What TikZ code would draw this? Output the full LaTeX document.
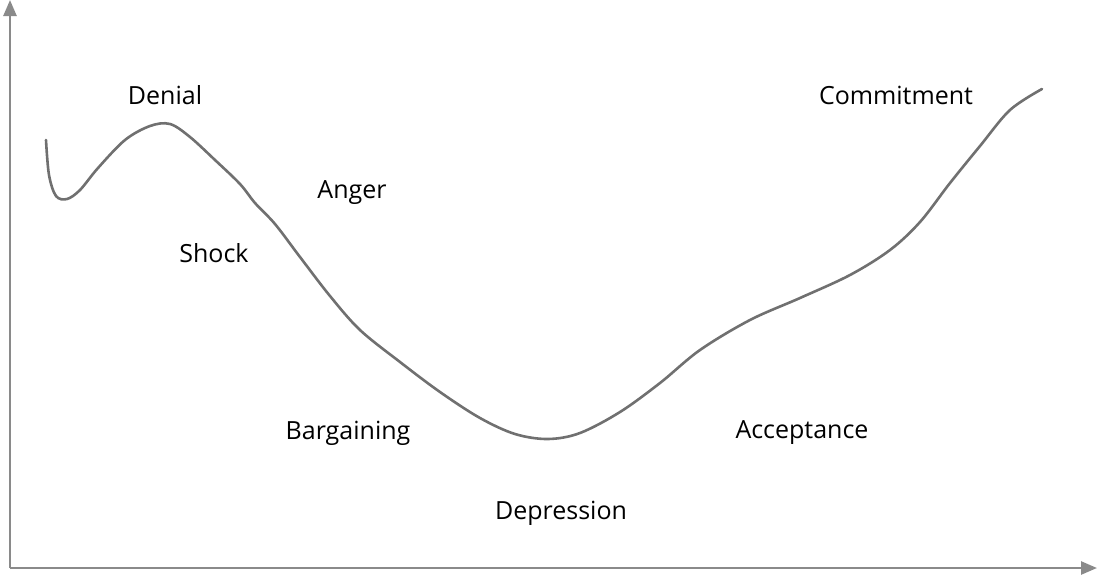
\documentclass[tikz,border=0pt]{standalone}
\usepackage{fontspec}
\setmainfont{Open Sans}
\usetikzlibrary{arrows.meta}
\definecolor{axisgray}{HTML}{8A8A8A}
\definecolor{curvegray}{HTML}{707070}
\begin{document}
\begin{tikzpicture}[x=1pt,y=-1pt,
  lbl/.style={font=\fontsize{25}{30}\selectfont, text=black, inner sep=0pt},
  axis/.style={draw=axisgray, line width=2.5pt, -{Triangle[length=16pt,width=13pt]}},
  curve/.style={draw=curvegray, line width=2.6pt, line cap=round, line join=round}]
\useasboundingbox (0,0) rectangle (1098,574);
\coordinate (o) at (10,568);
\coordinate (ytop) at (10,0);
\coordinate (xend) at (1097,568);
\draw[axis] (o) -- (ytop);
\draw[axis] (o) -- (xend);
\draw[curve] plot[smooth, tension=0.55] coordinates {
 (46,140) (49,175) (56,196) (67,199) (80,190) (98,168) (125,140) (150,126) (170,124)
 (190,137) (215,160) (240,184) (255,203) (275,224) (300,257) (330,296)
 (360,330) (400,362) (440,392) (480,418) (515,434) (548,439) (580,433)
 (620,412) (660,383) (700,350) (750,320) (800,298) (850,275) (890,250)
 (920,222) (950,183) (980,146) (1010,110) (1042,89)};
\node[lbl] (denial) at (165,95) {Denial};
\node[lbl] (commit) at (896,95) {Commitment};
\node[lbl] (anger) at (352,193) {Anger};
\node[lbl] (shock) at (214,253) {Shock};
\node[lbl] (barg) at (348,433) {Bargaining};
\node[lbl] (accept) at (802,433) {Acceptance};
\node[lbl] (depr) at (561,513) {Depression};
\end{tikzpicture}
\end{document}
